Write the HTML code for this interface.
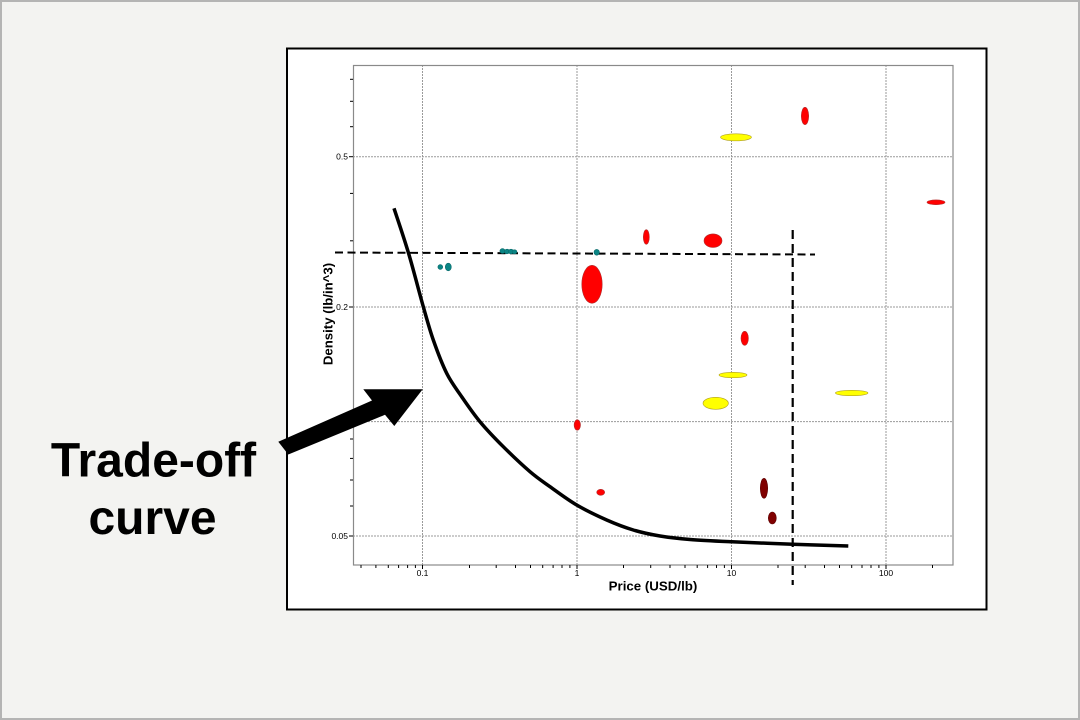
<!DOCTYPE html>
<html>
<head>
<meta charset="utf-8">
<style>
html,body{margin:0;padding:0;}
body{width:1080px;height:720px;overflow:hidden;background:#f3f3f1;}
svg{display:block;}
</style>
</head>
<body>
<svg width="1080" height="720" viewBox="0 0 1080 720" xmlns="http://www.w3.org/2000/svg">
  <rect x="1" y="1" width="1078" height="718" fill="#f3f3f1" stroke="#b4b4b4" stroke-width="2"/>

  <!-- chart box -->
  <rect x="287" y="48.5" width="699.5" height="561" fill="#ffffff" stroke="#000" stroke-width="2"/>

  <!-- grid -->
  <g stroke="#9a9a9a" stroke-width="1" stroke-dasharray="2,1" fill="none">
    <line x1="422.5" y1="65" x2="422.5" y2="565"/>
    <line x1="577" y1="65" x2="577" y2="565"/>
    <line x1="731.5" y1="65" x2="731.5" y2="565"/>
    <line x1="886" y1="65" x2="886" y2="565"/>
    <line x1="353" y1="156.7" x2="953" y2="156.7"/>
    <line x1="353" y1="307" x2="953" y2="307"/>
    <line x1="353" y1="421.6" x2="953" y2="421.6"/>
    <line x1="353" y1="536" x2="953" y2="536"/>
  </g>

  <!-- plot frame -->
  <rect x="353.5" y="65.5" width="599.5" height="499.5" fill="none" stroke="#8a8a8a" stroke-width="1.2"/>

  <!-- y ticks -->
  <g stroke="#000" stroke-width="1">
    <line x1="350" y1="79.3" x2="353" y2="79.3"/>
    <line x1="350" y1="101.3" x2="353" y2="101.3"/>
    <line x1="350" y1="126.7" x2="353" y2="126.7"/>
    <line x1="349" y1="156.7" x2="353" y2="156.7"/>
    <line x1="350" y1="193.4" x2="353" y2="193.4"/>
    <line x1="350" y1="240.8" x2="353" y2="240.8"/>
    <line x1="349" y1="307" x2="353" y2="307"/>
    <line x1="350" y1="439" x2="353" y2="439"/>
    <line x1="350" y1="458.4" x2="353" y2="458.4"/>
    <line x1="350" y1="480" x2="353" y2="480"/>
    <line x1="350" y1="506" x2="353" y2="506"/>
    <line x1="349" y1="536" x2="353" y2="536"/>
  </g>
  <!-- x ticks -->
  <g stroke="#000" stroke-width="1">
    <line x1="361" y1="565" x2="361" y2="568"/>
    <line x1="375.9" y1="565" x2="375.9" y2="568"/>
    <line x1="388.3" y1="565" x2="388.3" y2="568"/>
    <line x1="398.6" y1="565" x2="398.6" y2="568"/>
    <line x1="407.6" y1="565" x2="407.6" y2="568"/>
    <line x1="415.4" y1="565" x2="415.4" y2="568"/>
    <line x1="422.5" y1="565" x2="422.5" y2="569"/>
    <line x1="469.5" y1="565" x2="469.5" y2="568"/>
    <line x1="496.2" y1="565" x2="496.2" y2="568"/>
    <line x1="515.5" y1="565" x2="515.5" y2="568"/>
    <line x1="530.5" y1="565" x2="530.5" y2="568"/>
    <line x1="542.7" y1="565" x2="542.7" y2="568"/>
    <line x1="553.1" y1="565" x2="553.1" y2="568"/>
    <line x1="562" y1="565" x2="562" y2="568"/>
    <line x1="569.9" y1="565" x2="569.9" y2="568"/>
    <line x1="577" y1="565" x2="577" y2="569"/>
    <line x1="623.5" y1="565" x2="623.5" y2="568"/>
    <line x1="650.7" y1="565" x2="650.7" y2="568"/>
    <line x1="670" y1="565" x2="670" y2="568"/>
    <line x1="685" y1="565" x2="685" y2="568"/>
    <line x1="697.2" y1="565" x2="697.2" y2="568"/>
    <line x1="707.6" y1="565" x2="707.6" y2="568"/>
    <line x1="716.5" y1="565" x2="716.5" y2="568"/>
    <line x1="724.4" y1="565" x2="724.4" y2="568"/>
    <line x1="731.5" y1="565" x2="731.5" y2="569"/>
    <line x1="778" y1="565" x2="778" y2="568"/>
    <line x1="805.2" y1="565" x2="805.2" y2="568"/>
    <line x1="824.5" y1="565" x2="824.5" y2="568"/>
    <line x1="839.5" y1="565" x2="839.5" y2="568"/>
    <line x1="851.7" y1="565" x2="851.7" y2="568"/>
    <line x1="862" y1="565" x2="862" y2="568"/>
    <line x1="871" y1="565" x2="871" y2="568"/>
    <line x1="878.9" y1="565" x2="878.9" y2="568"/>
    <line x1="886" y1="565" x2="886" y2="569"/>
    <line x1="932.5" y1="565" x2="932.5" y2="568"/>
  </g>

  <!-- tick labels -->
  <g font-family="Liberation Sans, Arial, sans-serif" font-size="8.5" fill="#000">
    <text x="348" y="159.7" text-anchor="end">0.5</text>
    <text x="348" y="310" text-anchor="end">0.2</text>
    <text x="348" y="539" text-anchor="end">0.05</text>
    <text x="422.5" y="576" text-anchor="middle">0.1</text>
    <text x="577" y="576" text-anchor="middle">1</text>
    <text x="731.5" y="576" text-anchor="middle">10</text>
    <text x="886" y="576" text-anchor="middle">100</text>
  </g>

  <!-- axis titles -->
  <text x="653" y="590.5" text-anchor="middle" font-family="Liberation Sans, Arial, sans-serif" font-size="13.3" font-weight="bold" fill="#000">Price (USD/lb)</text>
  <text transform="translate(332.5,314) rotate(-90)" text-anchor="middle" font-family="Liberation Sans, Arial, sans-serif" font-size="13.2" font-weight="bold" fill="#000">Density (lb/in^3)</text>

  <!-- dashed reference lines -->
  <line x1="335" y1="252.5" x2="815" y2="254.5" stroke="#000" stroke-width="2" stroke-dasharray="8,4.5"/>
  <line x1="792.7" y1="230" x2="792.7" y2="585" stroke="#000" stroke-width="2.2" stroke-dasharray="9,5"/>

  <!-- markers -->
  <g stroke-width="0.6">
    <!-- teal -->
    <ellipse cx="440.3" cy="267" rx="2.4" ry="2.4" fill="#0a8585" stroke="#0a6a6a"/>
    <ellipse cx="448.3" cy="267" rx="3" ry="3.8" fill="#0a8585" stroke="#0a6a6a"/>
    <ellipse cx="502.5" cy="251" rx="2.6" ry="2.4" fill="#0a8585" stroke="#0a6a6a"/>
    <ellipse cx="507" cy="251.5" rx="2.6" ry="2.3" fill="#0a8585" stroke="#0a6a6a"/>
    <ellipse cx="511" cy="251.5" rx="2.6" ry="2.3" fill="#0a8585" stroke="#0a6a6a"/>
    <ellipse cx="514.5" cy="251.8" rx="2.4" ry="2" fill="#0a8585" stroke="#0a6a6a"/>
    <ellipse cx="596.7" cy="252.3" rx="2.7" ry="2.9" fill="#0a8585" stroke="#0a6a6a"/>
    <!-- red -->
    <ellipse cx="592" cy="284.3" rx="10.2" ry="19" fill="#ff0000" stroke="#b03030"/>
    <ellipse cx="646.3" cy="237" rx="3" ry="7.3" fill="#ff0000" stroke="#b03030"/>
    <ellipse cx="713" cy="240.7" rx="9" ry="6.8" fill="#ff0000" stroke="#b03030"/>
    <ellipse cx="805" cy="116" rx="3.7" ry="8.7" fill="#ff0000" stroke="#b03030"/>
    <ellipse cx="936" cy="202.3" rx="9" ry="2.4" fill="#ff0000" stroke="#b03030"/>
    <ellipse cx="744.7" cy="338.3" rx="3.7" ry="7" fill="#ff0000" stroke="#b03030"/>
    <ellipse cx="577.3" cy="425" rx="3.2" ry="5.2" fill="#ff0000" stroke="#b03030"/>
    <ellipse cx="600.7" cy="492.3" rx="4" ry="3" fill="#ff0000" stroke="#b03030"/>
    <!-- yellow -->
    <ellipse cx="736" cy="137.3" rx="15.5" ry="3.5" fill="#ffff00" stroke="#b0a020"/>
    <ellipse cx="733" cy="375" rx="14" ry="2.7" fill="#ffff00" stroke="#b0a020"/>
    <ellipse cx="715.7" cy="403.3" rx="12.7" ry="6" fill="#ffff00" stroke="#b0a020"/>
    <ellipse cx="851.7" cy="393" rx="16.3" ry="2.7" fill="#ffff00" stroke="#b0a020"/>
    <!-- dark red -->
    <ellipse cx="764" cy="488.3" rx="3.7" ry="10" fill="#800000" stroke="#5a0000"/>
    <ellipse cx="772.3" cy="518" rx="4" ry="6" fill="#800000" stroke="#5a0000"/>
  </g>

  <!-- trade-off curve (smooth) -->
  <path fill="none" stroke="#000" stroke-width="3.5" stroke-linecap="butt"
    d="M394,208.3
       C396.42,215.75 403.62,236.6 408.5,253
       C413.38,269.4 419.17,292.2 423.3,306.7
       C427.43,321.2 429.4,328.9 433.3,340
       C437.2,351.1 441.97,363.85 446.7,373.3
       C451.43,382.75 456.15,388.63 461.7,396.7
       C467.25,404.77 473.07,413.37 480,421.7
       C486.93,430.03 494.97,438.37 503.3,446.7
       C511.63,455.03 522.22,465.03 530,471.7
       C537.78,478.37 542.22,481.15 550,486.7
       C557.78,492.25 567.25,499.45 576.7,505
       C586.15,510.55 597.27,515.83 606.7,520
       C616.13,524.17 624.42,527.33 633.3,530
       C642.18,532.67 650.55,534.42 660,536
       C669.45,537.58 678.05,538.53 690,539.5
       C701.95,540.47 714.6,541.02 731.7,541.8
       C748.8,542.58 773.3,543.5 792.7,544.2
       C812.1,544.9 839.03,545.7 848.3,546"/>

  <!-- arrow -->
  <polygon fill="#000" points="278.3,441.7 372,400.5 363.3,389.3 422.7,389.3 394.3,426 385,414.8 288.3,454.5"/>

  <!-- annotation -->
  <g font-family="Liberation Sans, Arial, sans-serif" font-size="48" font-weight="bold" fill="#000" text-anchor="middle">
    <text x="153.5" y="476.7">Trade-off</text>
    <text x="152.5" y="534">curve</text>
  </g>
</svg>
</body>
</html>
